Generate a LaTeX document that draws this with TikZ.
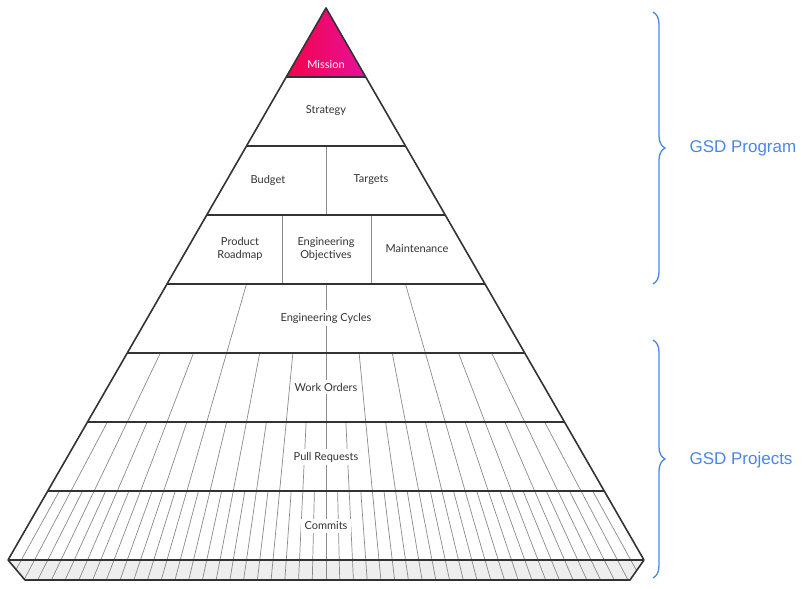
\documentclass[tikz,border=0pt]{standalone}
\usepackage{fontspec}
\setmainfont{Lato}
\newfontfamily\bracefont{Liberation Sans}
\usetikzlibrary{decorations.pathreplacing}

\definecolor{edgegray}{HTML}{333333}
\definecolor{raygray}{HTML}{8A8A8A}
\definecolor{txtgray}{HTML}{333333}
\definecolor{stripgray}{HTML}{EEEEEE}
\definecolor{bracecol}{HTML}{4A86E8}
\definecolor{missionA}{HTML}{F5024A}
\definecolor{missionB}{HTML}{E6129A}

\tikzset{
  lvl/.style={font=\fontsize{11}{13}\selectfont, text=txtgray, fill=white,
    inner xsep=4pt, inner ysep=3pt, align=center},
  ray/.style={draw=raygray, line width=0.7pt},
  band/.style={draw=edgegray, line width=1.6pt},
  grp/.style={draw=bracecol, line width=1.3pt,
    decorate, decoration={brace, amplitude=12pt, aspect=#1}},
  grplabel/.style={font=\bracefont\fontsize{17}{19}\selectfont, text=bracecol, anchor=west}
}

% x position of ray i of n at height y
\newcommand{\rayx}[3]{326+(2*#1/#2-1)*0.576087*(#3-8)}
% band between y1 and y2 split into n rays
\newcommand{\rays}[3]{%
  \pgfmathtruncatemacro{\nlast}{#3-1}%
  \foreach \i in {1,...,\nlast}
    \draw[ray] ({\rayx{\i}{#3}{#1}},#1) -- ({\rayx{\i}{#3}{#2}},#2);}

\begin{document}
\begin{tikzpicture}[x=1pt, y=-1pt]
  \useasboundingbox (0,0) rectangle (809,589);

  % Corners
  \coordinate (apex) at (326,8);
  \coordinate (bl) at (8,560);
  \coordinate (br) at (644,560);
  \coordinate (sbl) at (25,580);
  \coordinate (sbr) at (630,580);

  % Mission tip
  \fill[left color=missionA, right color=missionB] (apex) -- (286.25,77) -- (365.75,77) -- cycle;

  % Bottom strip
  \fill[stripgray] (bl) -- (br) -- (sbr) -- (sbl) -- cycle;
  \begin{scope}
    \clip (bl) -- (br) -- (sbr) -- (sbl) -- cycle;
    \rays{560}{580}{48}
  \end{scope}

  % Subdivisions
  \draw[ray] (326,146) -- (326,215);
  \draw[ray] (282,215) -- (282,284);
  \draw[ray] (371,215) -- (371,284);
  \rays{284}{353}{4}
  \rays{353}{422}{12}
  \rays{422}{491}{24}
  \rays{491}{560}{48}

  % Band borders
  \foreach \y in {77,146,215,284,353,422,491,560}
    \draw[band] ({326-0.576087*(\y-8)},\y) -- ({326+0.576087*(\y-8)},\y);
  \draw[band, line join=round] (bl) -- (apex) -- (br);
  \draw[band, line join=round] (bl) -- (sbl) -- (sbr) -- (br);

  % Labels
  \node[lvl, fill=none, text=white] (mission) at (326,65) {Mission};
  \node[lvl] (strategy) at (326,111) {Strategy};
  \node[lvl] (budget) at (268,180) {Budget};
  \node[lvl] (targets) at (371,180) {Targets};
  \node[lvl, fill=none] (roadmap) at (240,249) {Product\\Roadmap};
  \node[lvl, fill=none] (objectives) at (326,249) {Engineering\\Objectives};
  \node[lvl, fill=none] (maint) at (417,249) {Maintenance};
  \node[lvl] (cycles) at (326,318) {Engineering Cycles};
  \node[lvl] (orders) at (326,387) {Work Orders};
  \node[lvl] (pulls) at (326,457) {Pull Requests};
  \node[lvl] (commits) at (326,526) {Commits};

  % Groups
  \coordinate (pgtop) at (653,12);
  \coordinate (pgbot) at (653,284);
  \coordinate (prtop) at (653,340);
  \coordinate (prbot) at (653,578);
  \draw[grp=0.5] (pgtop) -- (pgbot);
  \draw[grp=0.5] (prtop) -- (prbot);
  \node[grplabel] (program) at (686,148) {GSD Program};
  \node[grplabel] (projects) at (686,460) {GSD Projects};
\end{tikzpicture}
\end{document}
